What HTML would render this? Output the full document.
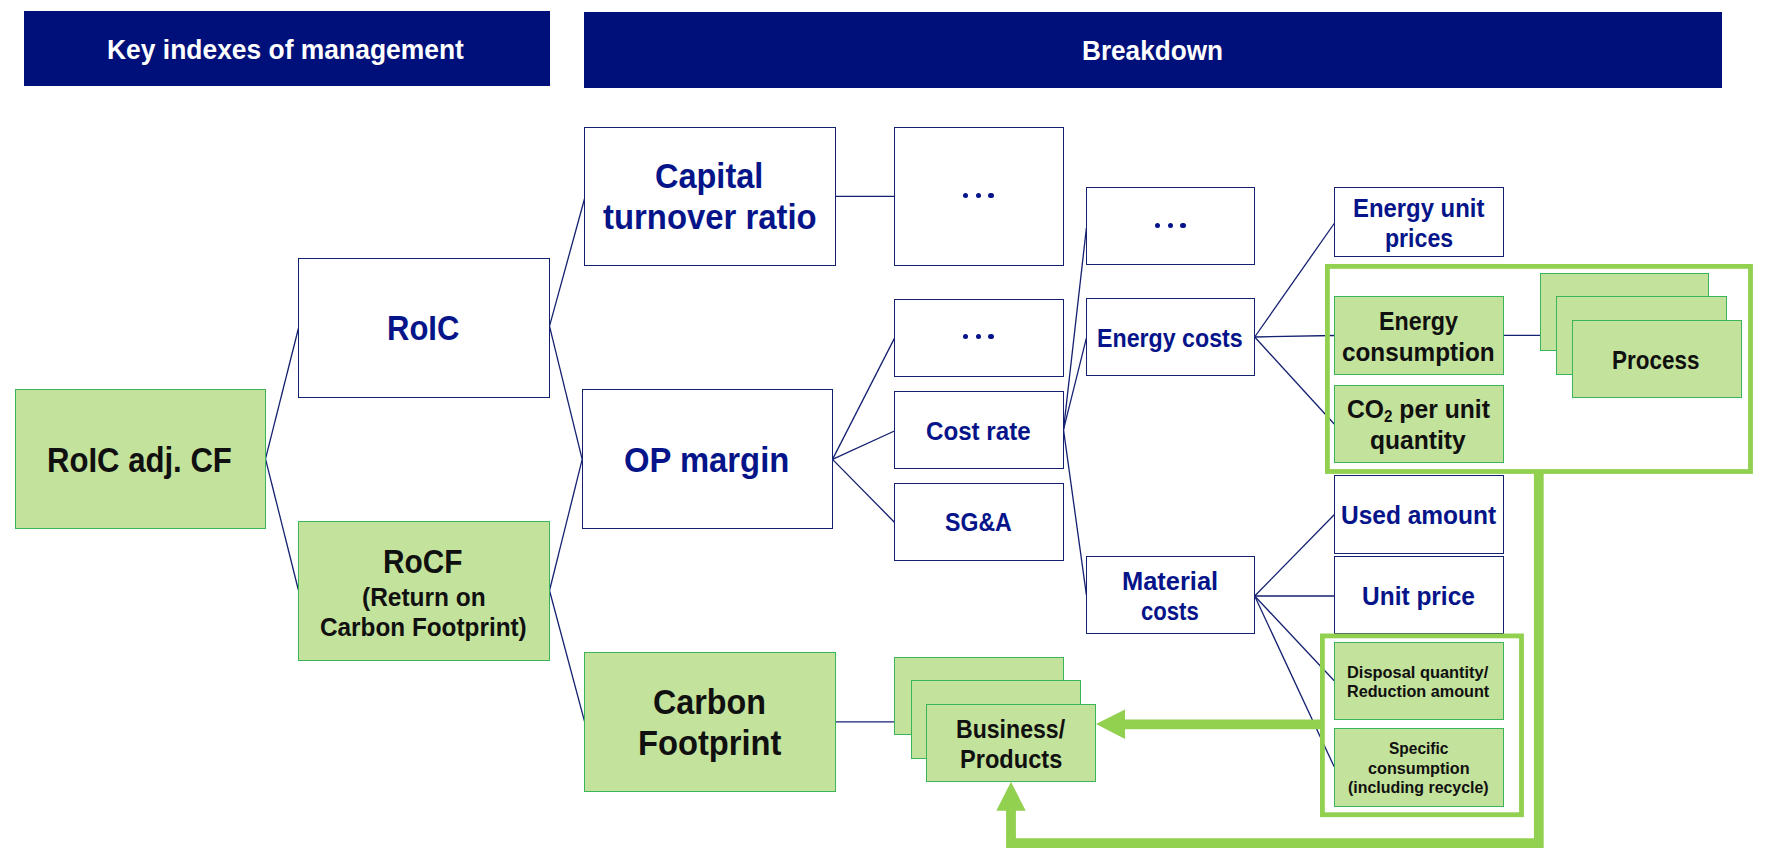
<!DOCTYPE html>
<html><head><meta charset="utf-8"><style>
html,body{margin:0;padding:0;background:#fff;}
#root{position:relative;width:1774px;height:867px;overflow:hidden;background:#fff;font-family:"Liberation Sans",sans-serif;}
.h{position:absolute;background:#00107a;}
.b{position:absolute;box-sizing:border-box;}
.w{background:#fff;border:1.3px solid #142070;}
.g{background:#c3e29b;border:1.3px solid #3cb55a;}
.t{position:absolute;white-space:nowrap;font-weight:bold;transform-origin:0 0;}
svg{position:absolute;left:0;top:0;}
.dot{position:absolute;width:5.3px;height:5.3px;border-radius:50%;background:#06148a;}
</style></head><body><div id="root">
<div class="h" style="left:24px;top:11px;width:526px;height:75px"></div>
<div class="h" style="left:584px;top:12px;width:1138px;height:76px"></div>
<svg width="1774" height="867" style="z-index:0"><g stroke="#142070" stroke-width="1.3"><line x1="265.5" y1="458.8" x2="298.4" y2="328.5"/><line x1="265.5" y1="458.8" x2="298.4" y2="590"/><line x1="549.5" y1="326.2" x2="584.6" y2="198.5"/><line x1="549.5" y1="326.2" x2="582.2" y2="459.4"/><line x1="549.5" y1="590.5" x2="582.2" y2="459.4"/><line x1="549.5" y1="590.5" x2="584.6" y2="721.7"/><line x1="835.5" y1="196.3" x2="894.5" y2="196.3"/><line x1="832.5" y1="459.4" x2="894.4" y2="338.4"/><line x1="832.5" y1="459.4" x2="894.4" y2="431"/><line x1="832.5" y1="459.4" x2="894.4" y2="522.2"/><line x1="835.5" y1="721.8" x2="894.5" y2="721.8"/><line x1="1063.5" y1="429.6" x2="1086.4" y2="228"/><line x1="1063.5" y1="429.6" x2="1086.4" y2="338.2"/><line x1="1063.5" y1="429.6" x2="1086.4" y2="594.8"/><line x1="1254.7" y1="337" x2="1334.2" y2="223.5"/><line x1="1254.7" y1="337" x2="1334.2" y2="335.5"/><line x1="1254.7" y1="337" x2="1334.2" y2="424"/><line x1="1503.5" y1="335.3" x2="1540.5" y2="335.3"/><line x1="1254.7" y1="596" x2="1334.2" y2="514.7"/><line x1="1254.7" y1="596" x2="1334.2" y2="596"/><line x1="1254.7" y1="596" x2="1334.2" y2="680.8"/><line x1="1254.7" y1="596" x2="1334.2" y2="766.8"/></g></svg>
<div class="b g" style="left:14.85px;top:388.85px;width:251.30px;height:140.30px"></div><div class="b w" style="left:297.85px;top:257.85px;width:252.30px;height:140.30px"></div><div class="b g" style="left:297.85px;top:521.35px;width:252.30px;height:139.30px"></div><div class="b w" style="left:583.85px;top:126.85px;width:252.30px;height:139.30px"></div><div class="b w" style="left:581.85px;top:388.85px;width:251.30px;height:140.30px"></div><div class="b g" style="left:583.85px;top:652.35px;width:252.30px;height:139.80px"></div><div class="b w" style="left:893.85px;top:126.85px;width:170.30px;height:139.30px"></div><div class="b w" style="left:893.85px;top:298.85px;width:170.30px;height:78.30px"></div><div class="b w" style="left:893.85px;top:390.85px;width:170.30px;height:78.30px"></div><div class="b w" style="left:893.85px;top:482.85px;width:170.30px;height:78.30px"></div><div class="b g" style="left:893.85px;top:657.35px;width:170.30px;height:77.80px"></div><div class="b g" style="left:910.85px;top:680.35px;width:170.30px;height:78.80px"></div><div class="b g" style="left:925.85px;top:704.35px;width:170.30px;height:77.80px"></div><div class="b w" style="left:1085.85px;top:186.85px;width:169.30px;height:78.30px"></div><div class="b w" style="left:1085.85px;top:298.35px;width:169.30px;height:77.80px"></div><div class="b w" style="left:1085.85px;top:556.35px;width:169.30px;height:77.80px"></div><div class="b w" style="left:1333.85px;top:186.85px;width:170.10px;height:70.30px"></div><div class="b g" style="left:1333.85px;top:295.85px;width:170.10px;height:79.30px"></div><div class="b g" style="left:1333.85px;top:385.35px;width:170.10px;height:77.80px"></div><div class="b w" style="left:1333.85px;top:474.85px;width:170.10px;height:78.80px"></div><div class="b w" style="left:1333.85px;top:555.85px;width:170.10px;height:77.80px"></div><div class="b g" style="left:1333.85px;top:642.35px;width:170.10px;height:77.80px"></div><div class="b g" style="left:1333.85px;top:727.85px;width:170.10px;height:78.80px"></div><div class="b g" style="left:1539.85px;top:272.85px;width:169.30px;height:78.30px"></div><div class="b g" style="left:1556.35px;top:295.85px;width:170.30px;height:79.30px"></div><div class="b g" style="left:1571.85px;top:319.85px;width:170.30px;height:77.80px"></div>
<svg width="1774" height="867" style="z-index:2">
<rect x="1327.4" y="266.4" width="423.1" height="205.1" fill="none" stroke="#92d050" stroke-width="4.8"/>
<rect x="1322.4" y="635.9" width="199.1" height="178.8" fill="none" stroke="#92d050" stroke-width="4.8"/>
<path d="M1538.8 471 V843.1 H1011 V800" fill="none" stroke="#92d050" stroke-width="9.8"/>
<polygon points="1011,781.8 996.3,810.8 1025.7,810.8" fill="#92d050"/>
<path d="M1322.6 724.3 H1115" fill="none" stroke="#92d050" stroke-width="9.8"/>
<polygon points="1096,724 1125,709.4 1125,739" fill="#92d050"/>
</svg>
<div style="position:absolute;left:0;top:0;z-index:3">
<div class="t" style="left:107.41px;top:35.82px;font-size:27.5px;line-height:27.5px;color:#ffffff;transform:scaleX(0.9609)">Key indexes of management</div>
<div class="t" style="left:1081.93px;top:37.02px;font-size:27.5px;line-height:27.5px;color:#ffffff;transform:scaleX(0.9510)">Breakdown</div>
<div class="t" style="left:47.13px;top:442.37px;font-size:35px;line-height:35px;color:#101010;transform:scaleX(0.8884)">RoIC adj. CF</div>
<div class="t" style="left:386.54px;top:310.37px;font-size:35px;line-height:35px;color:#06148a;transform:scaleX(0.8860)">RoIC</div>
<div class="t" style="left:383.41px;top:543.92px;font-size:34px;line-height:34px;color:#101010;transform:scaleX(0.8772)">RoCF</div>
<div class="t" style="left:362.02px;top:583.99px;font-size:26px;line-height:26px;color:#101010;transform:scaleX(0.9410)">(Return on</div>
<div class="t" style="left:320.03px;top:613.99px;font-size:26px;line-height:26px;color:#101010;transform:scaleX(0.9356)">Carbon Footprint)</div>
<div class="t" style="left:655.20px;top:158.17px;font-size:35px;line-height:35px;color:#06148a;transform:scaleX(0.9281)">Capital</div>
<div class="t" style="left:602.67px;top:199.07px;font-size:35px;line-height:35px;color:#06148a;transform:scaleX(0.9389)">turnover ratio</div>
<div class="t" style="left:623.69px;top:442.27px;font-size:35px;line-height:35px;color:#06148a;transform:scaleX(0.9374)">OP margin</div>
<div class="t" style="left:652.71px;top:684.17px;font-size:35px;line-height:35px;color:#101010;transform:scaleX(0.9221)">Carbon</div>
<div class="t" style="left:637.74px;top:725.07px;font-size:35px;line-height:35px;color:#101010;transform:scaleX(0.9343)">Footprint</div>
<div class="t" style="left:925.93px;top:418.19px;font-size:26px;line-height:26px;color:#06148a;transform:scaleX(0.9281)">Cost rate</div>
<div class="t" style="left:944.84px;top:508.99px;font-size:26px;line-height:26px;color:#06148a;transform:scaleX(0.8889)">SG&amp;A</div>
<div class="t" style="left:1097.01px;top:324.79px;font-size:26px;line-height:26px;color:#06148a;transform:scaleX(0.8925)">Energy costs</div>
<div class="t" style="left:1122.27px;top:567.89px;font-size:26px;line-height:26px;color:#06148a;transform:scaleX(0.9785)">Material</div>
<div class="t" style="left:1141.34px;top:598.09px;font-size:26px;line-height:26px;color:#06148a;transform:scaleX(0.8505)">costs</div>
<div class="t" style="left:1352.57px;top:194.99px;font-size:26px;line-height:26px;color:#06148a;transform:scaleX(0.9188)">Energy unit</div>
<div class="t" style="left:1385.01px;top:225.29px;font-size:26px;line-height:26px;color:#06148a;transform:scaleX(0.8893)">prices</div>
<div class="t" style="left:1378.60px;top:307.99px;font-size:26px;line-height:26px;color:#101010;transform:scaleX(0.8952)">Energy</div>
<div class="t" style="left:1342.37px;top:338.79px;font-size:26px;line-height:26px;color:#101010;transform:scaleX(0.9350)">consumption</div>
<div class="t" style="left:1370.42px;top:426.79px;font-size:26px;line-height:26px;color:#101010;transform:scaleX(0.9464)">quantity</div>
<div class="t" style="left:1340.73px;top:501.89px;font-size:26px;line-height:26px;color:#06148a;transform:scaleX(0.9421)">Used amount</div>
<div class="t" style="left:1361.93px;top:582.89px;font-size:26px;line-height:26px;color:#06148a;transform:scaleX(0.9416)">Unit price</div>
<div class="t" style="left:1347.32px;top:663.63px;font-size:16.5px;line-height:16.5px;color:#101010;transform:scaleX(0.9937)">Disposal quantity/</div>
<div class="t" style="left:1347.13px;top:683.43px;font-size:16.5px;line-height:16.5px;color:#101010;transform:scaleX(0.9820)">Reduction amount</div>
<div class="t" style="left:1388.79px;top:740.23px;font-size:16.5px;line-height:16.5px;color:#101010;transform:scaleX(0.9390)">Specific</div>
<div class="t" style="left:1367.51px;top:760.23px;font-size:16.5px;line-height:16.5px;color:#101010;transform:scaleX(0.9806)">consumption</div>
<div class="t" style="left:1347.96px;top:779.43px;font-size:16.5px;line-height:16.5px;color:#101010;transform:scaleX(0.9646)">(including recycle)</div>
<div class="t" style="left:956.01px;top:715.59px;font-size:26px;line-height:26px;color:#101010;transform:scaleX(0.8880)">Business/</div>
<div class="t" style="left:959.78px;top:745.79px;font-size:26px;line-height:26px;color:#101010;transform:scaleX(0.9076)">Products</div>
<div class="t" style="left:1612.35px;top:347.19px;font-size:26px;line-height:26px;color:#101010;transform:scaleX(0.8634)">Process</div>
<div class="t" style="left:1346.71px;top:396.19px;font-size:26px;line-height:26px;color:#101010;transform:scaleX(0.9496)">CO<span style="font-size:16px;position:relative;top:4px">2</span> per unit</div>
</div>
<div style="position:absolute;left:0;top:0;z-index:3"><div class="dot" style="left:962.80px;top:193.15px"></div><div class="dot" style="left:975.55px;top:193.15px"></div><div class="dot" style="left:988.30px;top:193.15px"></div><div class="dot" style="left:962.80px;top:334.15px"></div><div class="dot" style="left:975.55px;top:334.15px"></div><div class="dot" style="left:988.30px;top:334.15px"></div><div class="dot" style="left:1154.80px;top:223.15px"></div><div class="dot" style="left:1167.55px;top:223.15px"></div><div class="dot" style="left:1180.30px;top:223.15px"></div></div></div></body></html>
